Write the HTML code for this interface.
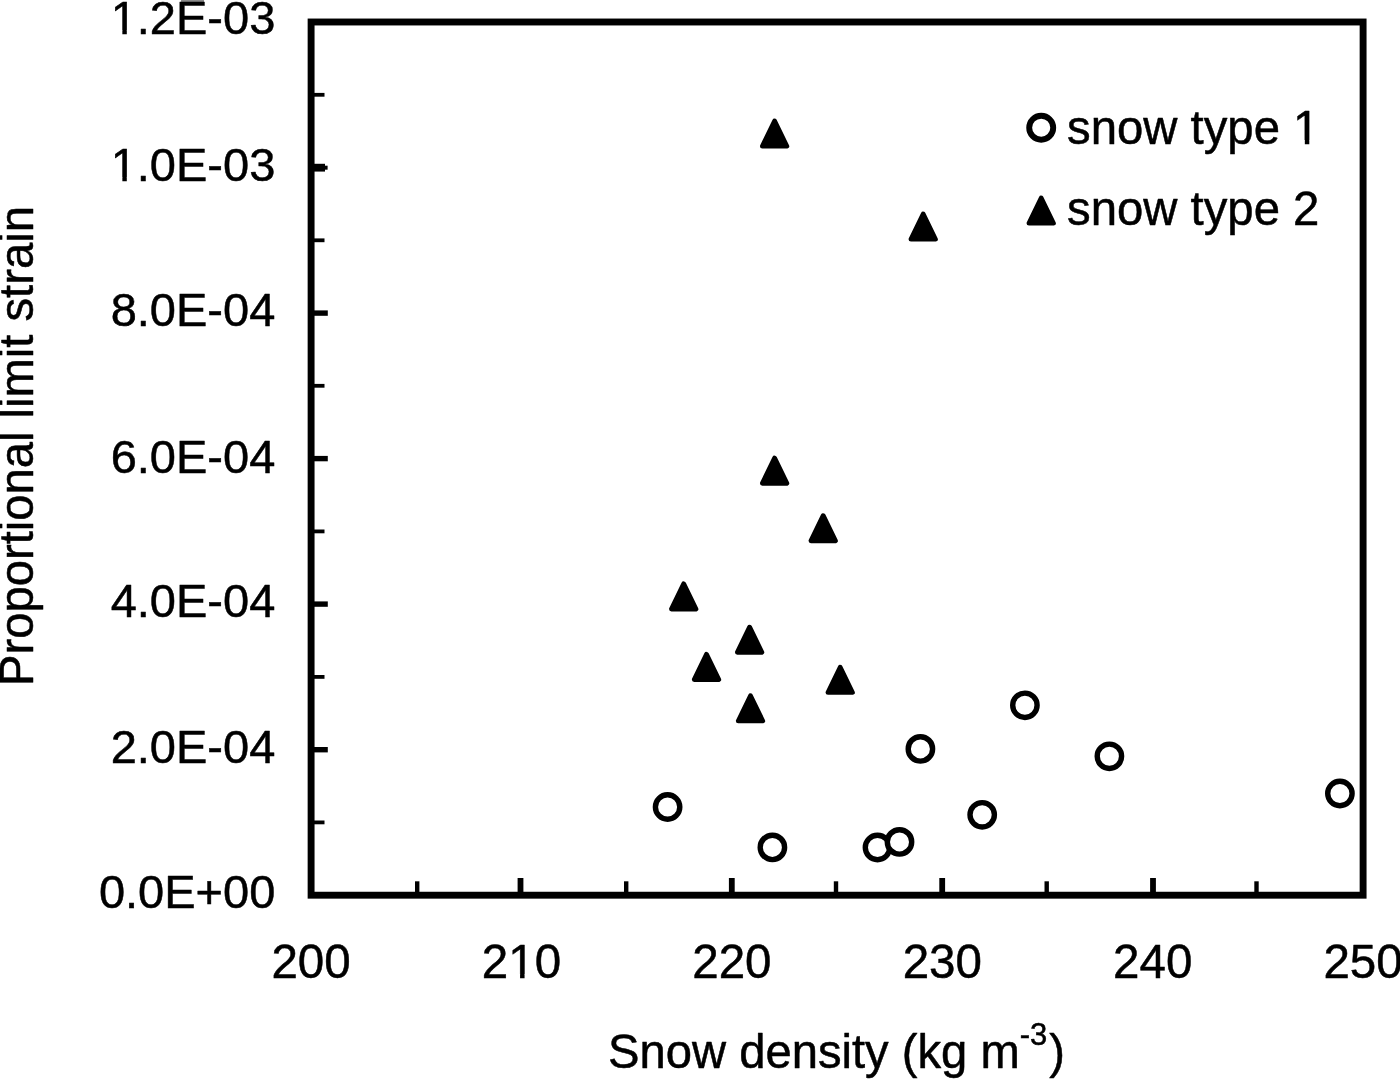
<!DOCTYPE html><html><head><meta charset="utf-8"><title>Proportional limit strain vs snow density</title><style>html,body{margin:0;padding:0;background:#fff;}body{width:1400px;height:1080px;overflow:hidden;}svg{display:block;}text{font-family:"Liberation Sans",Arial,Helvetica,sans-serif;fill:#000;}</style></head><body>
<svg width="1400" height="1080" viewBox="0 0 1400 1080">
<rect x="0" y="0" width="1400" height="1080" fill="#fff"/>
<rect x="181" y="0" width="23" height="2" fill="#8a8a8a"/>
<line x1="311.1" y1="749.7" x2="327.8" y2="749.7" stroke="#000" stroke-width="5.4"/>
<line x1="311.1" y1="604.1" x2="327.8" y2="604.1" stroke="#000" stroke-width="5.4"/>
<line x1="311.1" y1="458.6" x2="327.8" y2="458.6" stroke="#000" stroke-width="5.4"/>
<line x1="311.1" y1="313.1" x2="327.8" y2="313.1" stroke="#000" stroke-width="5.4"/>
<line x1="311.1" y1="167.68" x2="325.0" y2="167.68" stroke="#000" stroke-width="7.8"/>
<line x1="311.1" y1="167.68" x2="327.6" y2="167.68" stroke="#000" stroke-width="4.0"/>
<line x1="311.1" y1="822.4" x2="324.5" y2="822.4" stroke="#000" stroke-width="3.8"/>
<line x1="311.1" y1="676.9" x2="324.5" y2="676.9" stroke="#000" stroke-width="3.8"/>
<line x1="311.1" y1="531.4" x2="324.5" y2="531.4" stroke="#000" stroke-width="3.8"/>
<line x1="311.1" y1="385.8" x2="324.5" y2="385.8" stroke="#000" stroke-width="3.8"/>
<line x1="311.1" y1="240.3" x2="324.5" y2="240.3" stroke="#000" stroke-width="3.8"/>
<line x1="311.1" y1="94.8" x2="324.5" y2="94.8" stroke="#000" stroke-width="3.8"/>
<line x1="520.5" y1="895.2" x2="520.5" y2="878" stroke="#000" stroke-width="5.8"/>
<line x1="731.8" y1="895.2" x2="731.8" y2="878" stroke="#000" stroke-width="5.8"/>
<line x1="942.2" y1="895.2" x2="942.2" y2="878" stroke="#000" stroke-width="5.8"/>
<line x1="1153.0" y1="895.2" x2="1153.0" y2="878" stroke="#000" stroke-width="5.8"/>
<line x1="417.2" y1="895.2" x2="417.2" y2="881.3" stroke="#000" stroke-width="4.4"/>
<line x1="626.2" y1="895.2" x2="626.2" y2="881.3" stroke="#000" stroke-width="4.4"/>
<line x1="836.0" y1="895.2" x2="836.0" y2="881.3" stroke="#000" stroke-width="4.4"/>
<line x1="1046.7" y1="895.2" x2="1046.7" y2="881.3" stroke="#000" stroke-width="4.4"/>
<line x1="1256.5" y1="895.2" x2="1256.5" y2="881.3" stroke="#000" stroke-width="4.4"/>
<rect x="311.1" y="22.0" width="1052.0" height="873.2" fill="none" stroke="#000" stroke-width="6.9"/>
<text class="lab" x="275.3" y="908.0" font-size="47.0" text-anchor="end" stroke="#000" stroke-width="0.5" stroke-linejoin="round">0.0E+00</text>
<text class="lab" x="275.3" y="762.7" font-size="47.0" text-anchor="end" stroke="#000" stroke-width="0.5" stroke-linejoin="round">2.0E-04</text>
<text class="lab" x="275.3" y="617.0" font-size="47.0" text-anchor="end" stroke="#000" stroke-width="0.5" stroke-linejoin="round">4.0E-04</text>
<text class="lab" x="275.3" y="472.8" font-size="47.0" text-anchor="end" stroke="#000" stroke-width="0.5" stroke-linejoin="round">6.0E-04</text>
<text class="lab" x="275.3" y="326.2" font-size="47.0" text-anchor="end" stroke="#000" stroke-width="0.5" stroke-linejoin="round">8.0E-04</text>
<text class="lab" x="275.3" y="180.9" font-size="47.0" text-anchor="end" stroke="#000" stroke-width="0.5" stroke-linejoin="round">1.0E-03</text>
<text class="lab" x="275.3" y="34.2" font-size="47.0" text-anchor="end" stroke="#000" stroke-width="0.5" stroke-linejoin="round">1.2E-03</text>
<text class="lab" x="311.1" y="978.0" font-size="47.5" text-anchor="middle" stroke="#000" stroke-width="0.5" stroke-linejoin="round">200</text>
<text class="lab" x="521.5" y="978.0" font-size="47.5" text-anchor="middle" stroke="#000" stroke-width="0.5" stroke-linejoin="round">210</text>
<text class="lab" x="731.9" y="978.0" font-size="47.5" text-anchor="middle" stroke="#000" stroke-width="0.5" stroke-linejoin="round">220</text>
<text class="lab" x="942.3" y="978.0" font-size="47.5" text-anchor="middle" stroke="#000" stroke-width="0.5" stroke-linejoin="round">230</text>
<text class="lab" x="1152.7" y="978.0" font-size="47.5" text-anchor="middle" stroke="#000" stroke-width="0.5" stroke-linejoin="round">240</text>
<text class="lab" x="1363.1" y="978.0" font-size="47.5" text-anchor="middle" stroke="#000" stroke-width="0.5" stroke-linejoin="round">250</text>
<circle cx="667.6" cy="807.0" r="12.2" fill="#fff" stroke="#000" stroke-width="5.4"/>
<circle cx="772.4" cy="847.4" r="12.2" fill="#fff" stroke="#000" stroke-width="5.4"/>
<circle cx="877.5" cy="847.5" r="12.2" fill="#fff" stroke="#000" stroke-width="5.4"/>
<circle cx="899.5" cy="841.9" r="12.2" fill="#fff" stroke="#000" stroke-width="5.4"/>
<circle cx="920.4" cy="748.9" r="12.2" fill="#fff" stroke="#000" stroke-width="5.4"/>
<circle cx="982.2" cy="814.8" r="12.2" fill="#fff" stroke="#000" stroke-width="5.4"/>
<circle cx="1024.9" cy="705.3" r="12.2" fill="#fff" stroke="#000" stroke-width="5.4"/>
<circle cx="1109.4" cy="756.3" r="12.2" fill="#fff" stroke="#000" stroke-width="5.4"/>
<circle cx="1339.9" cy="793.5" r="12.2" fill="#fff" stroke="#000" stroke-width="5.4"/>
<polygon points="774.60,121.00 786.85,146.20 762.35,146.20" fill="#000" stroke="#000" stroke-width="4.80" stroke-linejoin="round"/>
<polygon points="923.20,214.00 935.45,239.20 910.95,239.20" fill="#000" stroke="#000" stroke-width="4.80" stroke-linejoin="round"/>
<polygon points="774.60,458.10 786.85,483.30 762.35,483.30" fill="#000" stroke="#000" stroke-width="4.80" stroke-linejoin="round"/>
<polygon points="823.20,515.65 835.45,540.85 810.95,540.85" fill="#000" stroke="#000" stroke-width="4.80" stroke-linejoin="round"/>
<polygon points="683.70,583.80 695.95,609.00 671.45,609.00" fill="#000" stroke="#000" stroke-width="4.80" stroke-linejoin="round"/>
<polygon points="749.60,627.15 761.85,652.35 737.35,652.35" fill="#000" stroke="#000" stroke-width="4.80" stroke-linejoin="round"/>
<polygon points="706.50,654.35 718.75,679.55 694.25,679.55" fill="#000" stroke="#000" stroke-width="4.80" stroke-linejoin="round"/>
<polygon points="840.20,667.25 852.45,692.45 827.95,692.45" fill="#000" stroke="#000" stroke-width="4.80" stroke-linejoin="round"/>
<polygon points="750.50,695.75 762.75,720.95 738.25,720.95" fill="#000" stroke="#000" stroke-width="4.80" stroke-linejoin="round"/>
<circle cx="1041.2" cy="127.7" r="12.0" fill="#fff" stroke="#000" stroke-width="5.9"/>
<polygon points="1041.20,198.00 1053.45,223.20 1028.95,223.20" fill="#000" stroke="#000" stroke-width="4.80" stroke-linejoin="round"/>
<text class="lab" x="1067" y="143.9" font-size="47.3" stroke="#000" stroke-width="0.5" stroke-linejoin="round">snow type 1</text>
<text class="lab" x="1067" y="224.8" font-size="47.3" stroke="#000" stroke-width="0.5" stroke-linejoin="round">snow type 2</text>
<text class="lab" x="608.0" y="1067.5" font-size="47.2" stroke="#000" stroke-width="0.5" stroke-linejoin="round">Snow density (kg m<tspan font-size="31" dy="-22.5">-3</tspan><tspan dy="22.5" dx="2">)</tspan></text>
<text class="lab" transform="translate(33.2,686.0) rotate(-90)" x="0" y="0" font-size="47.2" stroke="#000" stroke-width="0.5" stroke-linejoin="round">Proportional limit strain</text>
<rect x="113.32" y="177.00" width="9.03" height="5.00" fill="#fff"/>
<rect x="126.80" y="177.00" width="8.81" height="5.00" fill="#fff"/>
<rect x="113.32" y="30.00" width="9.03" height="5.00" fill="#fff"/>
<rect x="126.80" y="30.00" width="8.81" height="5.00" fill="#fff"/>
<rect x="510.95" y="974.00" width="9.12" height="5.00" fill="#fff"/>
<rect x="524.57" y="974.00" width="8.89" height="5.00" fill="#fff"/>
<rect x="1295.74" y="140.00" width="9.08" height="5.00" fill="#fff"/>
<rect x="1309.30" y="140.00" width="8.86" height="5.00" fill="#fff"/>
</svg></body></html>
